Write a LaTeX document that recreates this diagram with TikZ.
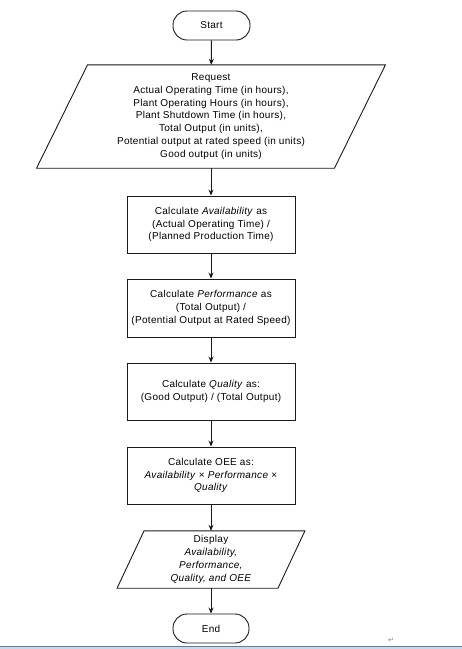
\documentclass[tikz,border=0pt]{standalone}
\usepackage{fontspec}
\setmainfont{Liberation Sans}[LetterSpace=3]
\newfontfamily\symfont{DejaVu Sans}
\usetikzlibrary{calc,arrows.meta}
\definecolor{lineC}{HTML}{1A1A1A}
\definecolor{barblue}{HTML}{5B7FB5}
\definecolor{barlight}{HTML}{C9D7EA}
\tikzset{
  txt/.style={align=center, inner sep=0pt, font=\fontsize{10}{12.8}\selectfont, text=black},
  terminal/.style={txt, draw=lineC, line width=0.9pt, rounded corners=14pt, minimum width=77pt, minimum height=29pt},
  procbox/.style={txt, draw=lineC, line width=0.9pt, minimum width=168pt, minimum height=57pt},
  iobox/.style={txt},
  para/.style={draw=lineC, line width=0.9pt},
  arr/.style={draw=lineC, line width=0.9pt, -{Stealth[length=6pt,width=5pt]}}
}
\begin{document}
\begin{tikzpicture}[x=1pt,y=-1pt]
\useasboundingbox (0,0) rectangle (462,649);
\fill[white] (0,0) rectangle (462,649);

\node[terminal] (start) at (211.5,25.5) {Start};

\node[iobox, minimum width=297.5pt, minimum height=103pt] (req) at (211,116.5)
  {Request\\Actual Operating Time (in hours),\\Plant Operating Hours (in hours),\\Plant Shutdown Time (in hours),\\Total Output (in units),\\Potential output at rated speed (in units)\\Good output (in units)};
\draw[para] ($(req.north west)+(25.5,0)$) -- ($(req.north east)+(25.5,0)$) -- ($(req.south east)+(-25.5,0)$) -- ($(req.south west)+(-25.5,0)$) -- cycle;

\node[procbox] (avail) at (211,224.5)
  {Calculate \textit{Availability} as\\(Actual Operating Time) /\\(Planned Production Time)};
\node[procbox, minimum height=58pt] (perf) at (211,308)
  {Calculate \textit{Performance} as\\(Total Output) /\\(Potential Output at Rated Speed)};
\node[procbox] (qual) at (211,391.5)
  {Calculate \textit{Quality} as:\\(Good Output) / (Total Output)};
\node[procbox] (oee) at (211,475.5)
  {Calculate OEE as:\\\textit{Availability} × \textit{Performance} ×\\\textit{Quality}};

\node[iobox, minimum width=160.5pt, minimum height=57pt] (disp) at (211,559.5)
  {Display\\\textit{Availability,}\\\textit{Performance,}\\\textit{Quality, and OEE}};
\draw[para] ($(disp.north west)+(13.5,0)$) -- ($(disp.north east)+(13.5,0)$) -- ($(disp.south east)+(-13.5,0)$) -- ($(disp.south west)+(-13.5,0)$) -- cycle;

\node[terminal, minimum width=76pt] (end) at (211,628.5) {End};

\draw[arr] (start) -- (req);
\draw[arr] (req) -- (avail);
\draw[arr] (avail) -- (perf);
\draw[arr] (perf) -- (qual);
\draw[arr] (qual) -- (oee);
\draw[arr] (oee) -- (disp);
\draw[arr] (disp) -- (end);

% page artifacts
\fill[barlight] (0,646) rectangle (462,649);
\draw[barblue, line width=1pt] (0,646) -- (462,646);
\node[inner sep=0pt, text=gray, font=\symfont\fontsize{7}{7}\selectfont] (ret) at (391,640) {↵};
\end{tikzpicture}
\end{document}
